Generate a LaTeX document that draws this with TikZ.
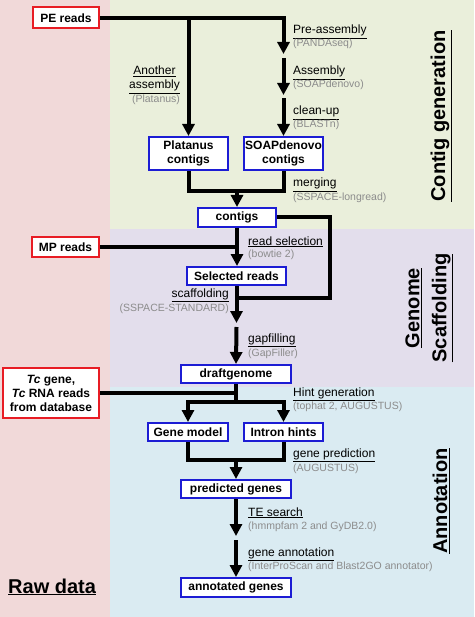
\documentclass[tikz,border=0pt]{standalone}
\usepackage{fontspec}
\setmainfont{Liberation Sans}
\usetikzlibrary{arrows.meta}
\definecolor{bgpink}{RGB}{241,217,217}
\definecolor{bggreen}{RGB}{234,239,219}
\definecolor{bglav}{RGB}{227,222,236}
\definecolor{bgblue}{RGB}{218,235,242}
\definecolor{boxblue}{RGB}{28,28,212}
\definecolor{boxred}{RGB}{232,28,36}
\definecolor{subgray}{RGB}{140,140,140}
\begin{document}
\begin{tikzpicture}[x=1pt,y=-1pt,
  box/.style={draw=boxblue, line width=2pt, fill=white, inner sep=0pt, font=\bfseries\fontsize{12}{14}\selectfont, align=center},
  rawbox/.style={box, draw=boxred},
  line/.style={line width=4pt, line join=miter},
  arr/.style={line, -{Triangle[width=12pt,length=12pt]}},
  lab/.style={anchor=base west, inner sep=0pt, font=\fontsize{12}{14}\selectfont},
  labr/.style={lab, anchor=base east},
  sub/.style={anchor=base west, inner sep=0pt, font=\fontsize{10.5}{13}\selectfont, text=subgray},
  subr/.style={sub, anchor=base east},
  section/.style={inner sep=0pt, rotate=90, align=center, font=\bfseries\fontsize{20}{27}\selectfont}
]
\useasboundingbox (0,0) rectangle (474,617);
% backgrounds
\fill[bgpink] (0,0) rectangle (110,617);
\fill[bggreen] (110,0) rectangle (474,229);
\fill[bglav] (110,229) rectangle (474,387);
\fill[bgblue] (110,387) rectangle (474,617);

% nodes
\node[rawbox, minimum width=66pt, minimum height=21pt] (pe) at (66,18) {PE reads};
\node[box, minimum width=79pt, minimum height=33pt] (plat) at (188.5,153.5) {Platanus\\contigs};
\node[box, minimum width=79pt, minimum height=33pt] (soap) at (283.5,153.5) {SOAPdenovo\\contigs};
\node[box, minimum width=78pt, minimum height=19pt] (contigs) at (237,217.5) {contigs};
\node[rawbox, minimum width=67pt, minimum height=20pt] (mp) at (65.5,247) {MP reads};
\node[box, minimum width=99pt, minimum height=18pt] (sel) at (236.5,276) {Selected reads};
\node[box, minimum width=110pt, minimum height=18pt] (draft) at (236,374) {draftgenome};
\node[rawbox, minimum width=96pt, minimum height=50pt] (tc) at (51,393) {\textit{Tc} gene,\\\textit{Tc} RNA reads\\from database};
\node[box, minimum width=80pt, minimum height=18pt] (gm) at (188,432) {Gene model};
\node[box, minimum width=79pt, minimum height=18pt] (ih) at (283.5,432) {Intron hints};
\node[box, minimum width=110pt, minimum height=18pt] (pred) at (236,489) {predicted genes};
\node[box, minimum width=110pt, minimum height=19pt] (ann) at (236,587.5) {annotated genes};

% helper coordinates
\coordinate (a1) at (283.5,54);
\coordinate (a2) at (283.5,58);
\coordinate (a3) at (283.5,95);
\coordinate (a4) at (283.5,98.5);
\coordinate (m1) at (237,191);
\coordinate (lp) at (330,298);
\coordinate (b1) at (236.5,323);
\coordinate (b2) at (236.5,327);
\coordinate (h1) at (236,402);
\coordinate (p1) at (236,460);
\coordinate (c1) at (236,536);
\coordinate (c2) at (236,540);

% connectors
\draw[arr] (pe.east) -| (a1);
\draw[arr] (pe.east -| plat.north) -- (plat.north);
\draw[arr] (a2) -- (a3);
\draw[arr] (a4) -- (soap.north);
\draw[line] (plat.south) |- (m1) -| (soap.south);
\draw[arr] (m1) -- (contigs.north);
\draw[arr] (contigs.south) -- (contigs.south |- sel.north);
\draw[line] (mp.east) -- (mp.east -| contigs.south);
\draw[line] (contigs.east) -| (lp) -- (lp -| sel.south);
\draw[arr] (sel.south) -- (b1);
\draw[arr] (b2) -- (draft.north);
\draw[line] (draft.south) -- (h1);
\draw[line] (tc.east) -- (tc.east -| draft.south);
\draw[arr] (h1) -| (gm.north);
\draw[arr] (h1) -| (ih.north);
\draw[line] (gm.south) |- (p1) -| (ih.south);
\draw[arr] (p1) -- (pred.north);
\draw[arr] (pred.south) -- (c1);
\draw[arr] (c2) -- (ann.north);

% labels
\node[lab] (l1) at (293,34) {\underline{Pre-assembly}};
\node[sub] (s1) at (293,47) {(PANDAseq)};
\node[lab] (l2) at (293,75) {\underline{Assembly}};
\node[sub] (s2) at (293,88) {(SOAPdenovo)};
\node[lab] (l3) at (293,115) {\underline{clean-up}};
\node[sub] (s3) at (293,128) {(BLASTn)};
\node[inner sep=0pt, anchor=base, font=\fontsize{12}{14}\selectfont] (l4a) at (154.5,75) {\underline{Another}};
\node[inner sep=0pt, anchor=base, font=\fontsize{12}{14}\selectfont] (l4b) at (154.5,89) {\underline{assembly}};
\node[sub, anchor=base] (s4) at (156,103) {(Platanus)};
\node[lab] (l5) at (293,187) {\underline{merging}};
\node[sub] (s5) at (293,201) {(SSPACE-longread)};
\node[lab] (l6) at (248,245) {\underline{read selection}};
\node[sub] (s6) at (248,258) {(bowtie 2)};
\node[labr] (l7) at (229,297) {\underline{scaffolding}};
\node[subr] (s7) at (229,311) {(SSPACE-STANDARD)};
\node[lab] (l8) at (248,342) {\underline{gapfilling}};
\node[sub] (s8) at (248,356) {(GapFiller)};
\node[lab] (l9) at (293,396) {\underline{Hint generation}};
\node[sub] (s9) at (293,409) {(tophat 2, AUGUSTUS)};
\node[lab] (l10) at (293,457) {\underline{gene prediction}};
\node[sub] (s10) at (293,471) {(AUGUSTUS)};
\node[lab] (l11) at (248,516) {\underline{TE search}};
\node[sub] (s11) at (248,529) {(hmmpfam 2 and GyDB2.0)};
\node[lab] (l12) at (248,556) {\underline{gene annotation}};
\node[sub] (s12) at (248,569) {(InterProScan and Blast2GO annotator)};

% section titles
\node[section] (t1) at (441,116) {\underline{Contig generation}};
\node[section] (t2) at (429,308) {\underline{Genome}\\\underline{Scaffolding}};
\node[section] (t3) at (441,501) {\underline{Annotation}};
\node[inner sep=0pt, anchor=base west, font=\bfseries\fontsize{20}{24}\selectfont] (t4) at (8,593) {\underline{Raw data}};
\end{tikzpicture}
\end{document}
